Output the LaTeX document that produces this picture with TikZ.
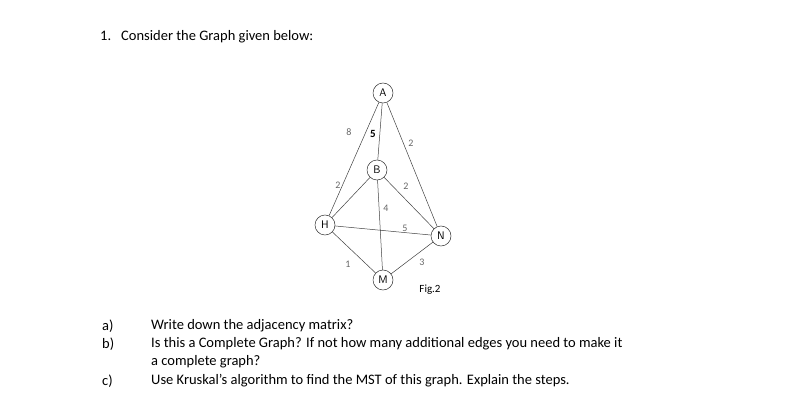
\documentclass[tikz,border=0pt]{standalone}
\usepackage{fontspec}
\setmainfont{Carlito}
\begin{document}
\begin{tikzpicture}[x=1pt,y=-1pt,
  vtx/.style={circle,draw=black!80,line width=0.5pt,minimum size=20pt,inner sep=0pt,font=\fontsize{11}{11}\selectfont\sffamily},
  edge/.style={draw=black!75,line width=0.5pt},
  wt/.style={font=\fontsize{10}{10}\selectfont,text=black!60},
  txt/.style={font=\fontsize{14.5}{14.5}\selectfont,anchor=west,inner sep=0pt}]
\useasboundingbox (0,0) rectangle (808,406);
\node[vtx] (A) at (383,93) {A};
\node[vtx] (B) at (377,170) {B};
\node[vtx] (H) at (325,225) {H};
\node[vtx] (N) at (441,236) {N};
\node[vtx] (M) at (383,280) {M};
\draw[edge] (A)--(H) (A)--(B) (A)--(N) (B)--(H) (B)--(N) (B)--(M) (H)--(N) (H)--(M) (N)--(M);
\node[wt] (w1) at (349,132) {8};
\node[wt,text=black,font=\fontsize{11}{11}\selectfont\bfseries] (w2) at (373,134) {5};
\node[wt] (w3) at (411,143) {2};
\node[wt] (w4) at (338,185) {2};
\node[wt] (w5) at (406,186) {2};
\node[wt] (w6) at (386,208) {4};
\node[wt] (w7) at (405,228) {5};
\node[wt] (w8) at (348,264) {1};
\node[wt] (w9) at (422,262) {3};
\node[font=\fontsize{11}{11}\selectfont] (fig) at (430,290) {Fig.2};
\node[txt] (t0) at (100,37) {1.\hspace{10pt}Consider the Graph given below:};
\node[txt] (la) at (102,326) {a)};
\node[txt] (lb) at (102,344) {b)};
\node[txt] (lc) at (102,381) {c)};
\node[txt] (ta) at (151,326) {Write down the adjacency matrix?};
\node[txt] (tb) at (151,344) {Is this a Complete Graph? If not how many additional edges you need to make it};
\node[txt] (tb2) at (151,362) {a complete graph?};
\node[txt] (tc) at (151,381) {Use Kruskal’s algorithm to find the MST of this graph. Explain the steps.};
\end{tikzpicture}
\end{document}
